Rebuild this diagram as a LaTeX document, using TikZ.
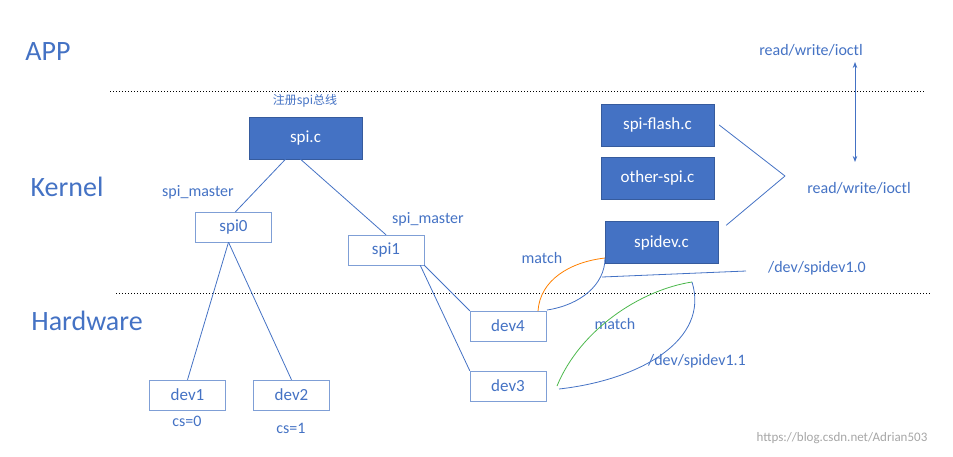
\documentclass[tikz,border=0pt]{standalone}
\usepackage{fontspec}
\setmainfont{Carlito}
\newfontfamily\cjk{Noto Sans CJK SC}
\usetikzlibrary{arrows.meta}
\definecolor{bl}{HTML}{4472C4}
\definecolor{lb}{HTML}{7F9FD6}
\tikzset{
 x=1pt,y=-1pt,
 fbox/.style={draw=bl!80!black,fill=bl,text=white,minimum width=113pt,minimum height=42pt,inner sep=0pt,font=\fontsize{17}{17}\selectfont},
 wbox/.style={draw=lb,fill=white,text=bl,minimum width=76pt,minimum height=30pt,inner sep=0pt,font=\fontsize{17}{17}\selectfont},
 lbl/.style={text=bl,font=\fontsize{16}{16}\selectfont,inner sep=0pt},
 big/.style={text=bl,font=\fontsize{28}{28}\selectfont,inner sep=0pt},
 ln/.style={draw=bl,line width=0.8pt},
 dot/.style={line width=1pt,dotted},
}
\begin{document}
\begin{tikzpicture}
\useasboundingbox (0,0) rectangle (953,456);
\node[big] (app) at (48,52) {APP};
\node[big] (ker) at (67,187) {Kernel};
\node[big] (hw) at (87,321) {Hardware};
\coordinate (d1a) at (110,91); \coordinate (d1b) at (925,91);
\draw[dot] (d1a) -- (d1b);
\coordinate (d2a) at (116,293); \coordinate (d2b) at (930,293);
\draw[dot] (d2a) -- (d2b);
\node[text=bl,font=\cjk\fontsize{12}{12}\selectfont] (reg) at (305,101) {注册spi总线};
\node[fbox] (spic) at (305.5,138) {spi.c};
\node[lbl] (m0) at (198,192) {spi\_master};
\node[wbox] (spi0) at (233.5,227) {spi0};
\node[lbl] (m1) at (428,219) {spi\_master};
\node[wbox] (spi1) at (386,250) {spi1};
\node[wbox] (dev1) at (187.5,395) {dev1};
\node[wbox] (dev2) at (291.5,395) {dev2};
\node[lbl] (cs0) at (187,421) {cs=0};
\node[lbl] (cs1) at (291,428) {cs=1};
\node[wbox] (dev4) at (508,326) {dev4};
\node[wbox] (dev3) at (508,386) {dev3};
\node[fbox] (flash) at (657.5,125) {spi-flash.c};
\node[fbox] (other) at (657.5,178) {other-spi.c};
\node[fbox] (spidev) at (661.5,242.5) {spidev.c};
\node[lbl] (rw1) at (811,50) {read/write/ioctl};
\node[lbl] (rw2) at (859,188) {read/write/ioctl};
\node[lbl] (ma1) at (542,258) {match};
\node[lbl] (ma2) at (615,324) {match};
\node[lbl] (sd0) at (817,268) {/dev/spidev1.0};
\node[lbl] (sd1) at (697,361) {/dev/spidev1.1};
\node[text=gray!70,font=\fontsize{13}{13}\selectfont] (wm) at (842,438) {https://blog.csdn.net/Adrian503};
\draw[ln] ([xshift=-20pt]spic.south) -- ([xshift=2pt]spi0.north);
\draw[ln] ([xshift=-5pt]spic.south) -- (spi1.north);
\draw[ln] ([xshift=-5pt]spi0.south) -- (dev1.north);
\draw[ln] ([xshift=-5pt]spi0.south) -- (dev2.north);
\draw[ln] (spi1.south east) -- (dev4.north west);
\draw[ln] ([xshift=-4pt]spi1.south east) -- (dev3.north west);
\coordinate (o1) at (538,311); \coordinate (o2) at (605,258);
\draw[orange,line width=0.8pt] (o1) .. controls (540,280) and (570,262) .. (o2);
\coordinate (b1) at (547,310);
\draw[ln] (b1) .. controls (580,305) and (605,285) .. (o2);
\coordinate (s0) at (602,277); \coordinate (s0e) at (746,271);
\draw[ln] (s0) -- (s0e);
\coordinate (g1) at (557,386); \coordinate (g2) at (692,282);
\draw[green!60!black!70,line width=0.8pt] (g1) .. controls (580,330) and (640,290) .. (g2);
\coordinate (g3) at (559,389);
\draw[ln] (g3) .. controls (640,380) and (710,340) .. (g2);
\coordinate (c) at (785,176);
\draw[ln] ([xshift=5pt]flash.east) -- (c);
\draw[ln] ([xshift=8pt,yshift=-4pt]spidev.north east) -- (c);
\coordinate (a1) at (855,62); \coordinate (a2) at (855,162);
\draw[ln,{Stealth[length=6pt]}-{Stealth[length=6pt]}] (a1) -- (a2);
\end{tikzpicture}
\end{document}
